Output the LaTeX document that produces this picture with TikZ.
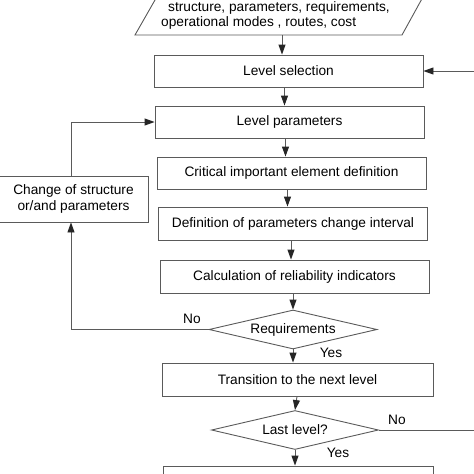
\documentclass[tikz,border=0pt]{standalone}
\usepackage{fontspec}
\setmainfont{Liberation Sans}
\usetikzlibrary{arrows.meta,shapes.geometric,calc}
\definecolor{edge}{HTML}{5A5A5A}
\tikzset{
  box/.style={draw=edge, line width=0.9pt, rectangle, minimum width=269pt, minimum height=32pt, inner sep=0pt, font=\fontsize{13.7}{16}\selectfont, text=black},
  dia/.style={draw=edge, line width=0.9pt, diamond, aspect=4.3, minimum width=168pt, minimum height=39pt, inner sep=0pt, font=\fontsize{13.7}{16}\selectfont},
  lbl/.style={font=\fontsize{13.7}{16}\selectfont, inner sep=0pt},
  conn/.style={draw=edge, line width=0.9pt},
  arr/.style={conn, -{Triangle[length=10pt,width=7pt,color=black!85]}}
}
\begin{document}
\begin{tikzpicture}[x=1pt,y=-1pt]
\useasboundingbox (0,0) rectangle (474,474);
\clip (0,0) rectangle (474,474);
% input parallelogram
\draw[draw=edge, line width=0.9pt] (135,35) -- (163,-14) -- (429,-14) -- (402,35) -- cycle;
\node[lbl, anchor=base west] (t1) at (168,11) {structure, parameters, requirements,};
\node[lbl, anchor=base west] (t2) at (161,26.5) {operational modes , routes, cost};
\coordinate (in) at (282,35);
% main chain
\node[box] (sel) at (288.5,71) {Level selection};
\node[box] (par) at (289.5,122) {Level parameters};
\node[box] (crit) at (291.5,173) {Critical important element definition};
\node[box, minimum height=33pt] (defi) at (293,223.5) {Definition of parameters change interval};
\node[box, minimum height=33pt] (calc) at (294.5,276.5) {Calculation of reliability indicators};
\node[dia] (req) at (293,329.5) {Requirements};
\node[box, minimum width=271pt, minimum height=33pt] (trans) at (297.5,379.5) {Transition to the next level};
\node[dia, minimum width=167pt] (last) at (295,430) {Last level?};
\node[box, minimum width=270pt] (fin) at (298,482) {};
\node[box, minimum width=150pt, minimum height=46pt, align=center] (chg) at (73.5,199) {Change of structure\\or/and parameters};
% connectors
\draw[arr] (in) -- (in |- sel.north);
\draw[arr] ([xshift=-4pt]sel.south) -- ([xshift=-4pt]sel.south |- par.north);
\draw[arr] ([xshift=-4pt]par.south) -- ([xshift=-4pt]par.south |- crit.north);
\draw[arr] ([xshift=-4pt]crit.south) -- ([xshift=-4pt]crit.south |- defi.north);
\draw[arr] ([xshift=-2pt]defi.south) -- ([xshift=-2pt]defi.south |- calc.north);
\draw[arr] ([xshift=-1.5pt]calc.south) -- (req.north);
\draw[arr] (req.south) -- (req.south |- trans.north);
\draw[arr] ([xshift=-0.5pt]trans.south) -- (last.north);
\draw[arr] (last.south) -- (last.south |- fin.north);
\coordinate (lx) at (71,0);
\draw[arr] (req.west) -- (lx |- req.west) -- (lx |- chg.south);
\draw[arr] (lx |- chg.north) |- (par.west);
\coordinate (rx) at (490,0);
\draw[arr] (last.east) -- (rx |- last.east) -- (rx |- sel.east) -- (sel.east);
% labels
\node[lbl] (no1) at (192,319) {No};
\node[lbl] (yes1) at (331,353) {Yes};
\node[lbl] (no2) at (397,420) {No};
\node[lbl] (yes2) at (338,453) {Yes};
\end{tikzpicture}
\end{document}
